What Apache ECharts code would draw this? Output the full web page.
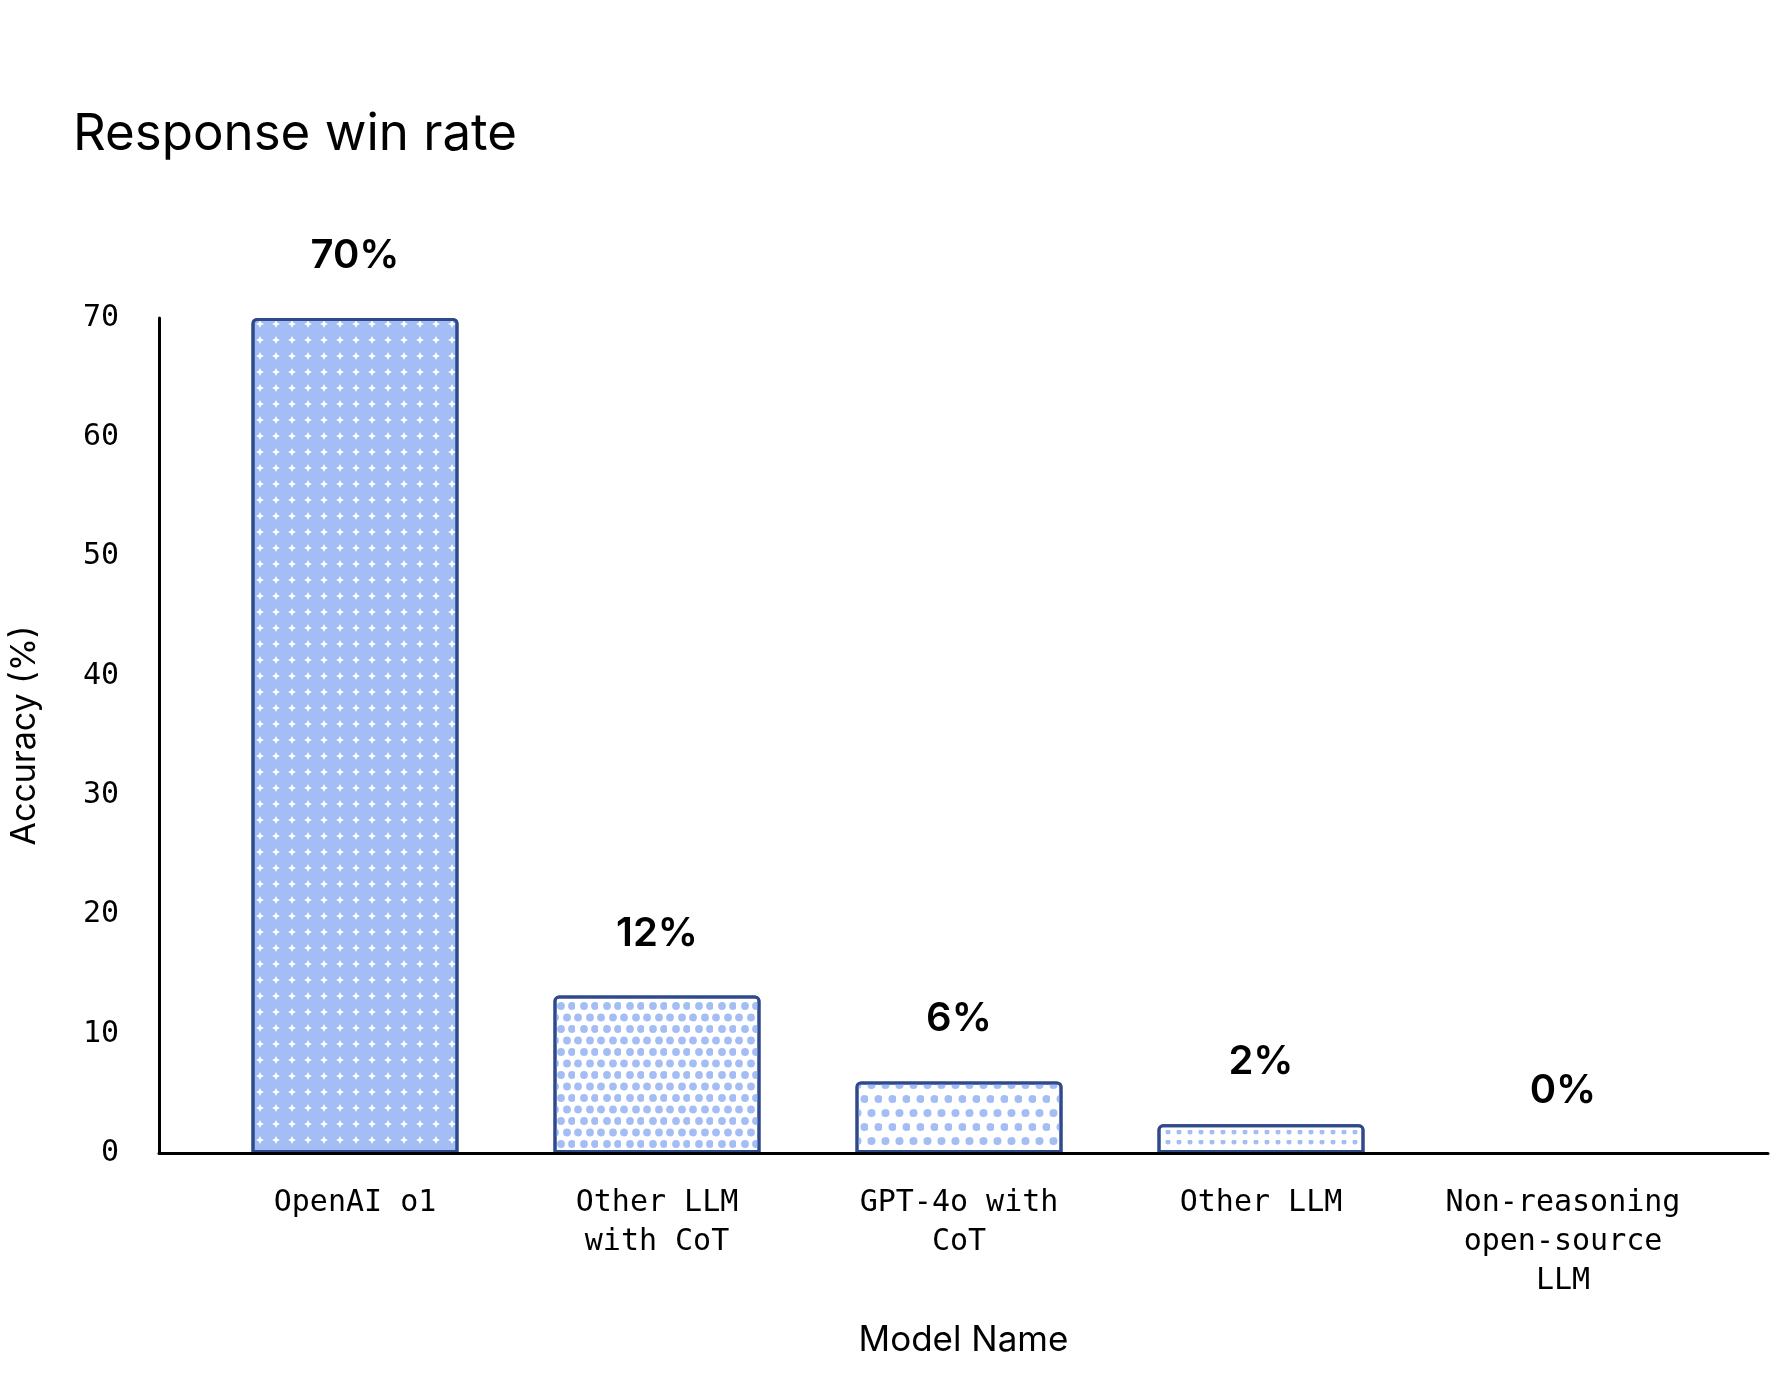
<!DOCTYPE html>
<html lang="en">
<head>
	<meta charset="UTF-8">
	<title>Response win rate</title>
	<script type="text/javascript" src="https://cdn.jsdelivr.net/npm/echarts@6/dist/echarts.min.js"></script>
	<style>
		html, body { margin: 0; padding: 0; background: #fff; }
		#main { width: 1788px; height: 1386px; }
	</style>
</head>
<body>
	<div id="main"></div>
	<script type="text/javascript">
		// data
		var categories = ['OpenAI o1', 'Other LLM\nwith CoT', 'GPT-4o with\nCoT', 'Other LLM', 'Non-reasoning\nopen-source\nLLM'];
		var winRates = [70, 13.2, 6, 2.4, 0];
		var rateLabels = ['70%', '12%', '6%', '2%', '0%'];
		var yMin = 0, yMax = 70, yStep = 10;

		var blue = '#a4bef5';
		var navy = '#2e4a8a';
		var star = 'path://M5,0 L6.6,3.4 L10,5 L6.6,6.6 L5,10 L3.4,6.6 L0,5 L3.4,3.4 Z';

		// one fill pattern per bar (decal dash lengths get rounded up, so keep them whole)
		var patterns = [
			{ fill: blue, decal: { symbol: star, color: '#ffffff', dashArrayX: [8, 8], dashArrayY: [8, 8], symbolSize: 1 } },
			{ fill: '#ffffff', decal: { symbol: 'circle', color: blue, dashArrayX: [[6, 6, 6, 5], [0, 6, 6, 5, 6, 0]], dashArrayY: [11, 0, 12, 0], symbolSize: 1.3 } },
			{ fill: '#ffffff', decal: { symbol: 'circle', color: blue, dashArrayX: [[7, 7], [0, 7, 7, 0]], dashArrayY: [14, 0], symbolSize: 1.15 } },
			{ fill: '#ffffff', decal: { symbol: 'circle', color: blue, dashArrayX: [4, 7], dashArrayY: [4, 6], symbolSize: 1.25 } },
			{ fill: '#ffffff', decal: null }
		];

		var barData = winRates.map(function (v, i) {
			var style = { color: patterns[i].fill };
			if (patterns[i].decal) style.decal = patterns[i].decal;
			if (v === 0) style.borderWidth = 0;
			return { value: v, itemStyle: style };
		});

		var monoFont = 'DejaVu Sans Mono';
		var sansFont = 'Inter';

		var myChart = echarts.init(document.getElementById('main'));
		var option = {
			backgroundColor: '#ffffff',
			animation: false,
			title: {
				text: 'Response win rate',
				left: 68,
				top: 104,
				textStyle: { fontFamily: sansFont, fontSize: 51, fontWeight: 400, color: '#000' }
			},
			grid: [
				{ left: 204, right: 74, top: 318, bottom: 233 },
				{ left: 157, right: 20, top: 318, bottom: 233 }
			],
			xAxis: [
				{
					type: 'category',
					gridIndex: 0,
					data: categories,
					axisLine: { show: false },
					axisTick: { show: false },
					axisLabel: {
						interval: 0,
						margin: 31,
						fontFamily: monoFont,
						fontSize: 30,
						lineHeight: 39,
						color: '#000'
					}
				},
				{
					type: 'value',
					gridIndex: 1,
					min: 0,
					max: 1,
					z: 3,
					axisLine: { show: true, lineStyle: { color: '#000', width: 3 } },
					axisTick: { show: false },
					axisLabel: { show: false },
					splitLine: { show: false },
					name: 'Model Name',
					nameLocation: 'middle',
					nameGap: 170,
					nameTextStyle: { fontFamily: sansFont, fontSize: 35, color: '#000' }
				}
			],
			yAxis: [
				{
					type: 'value',
					gridIndex: 0,
					min: yMin,
					max: yMax,
					interval: yStep,
					show: false
				},
				{
					type: 'value',
					gridIndex: 1,
					min: yMin,
					max: yMax,
					interval: yStep,
					z: 3,
					axisLine: { show: true, lineStyle: { color: '#000', width: 3 } },
					axisTick: { show: false },
					splitLine: { show: false },
					axisLabel: { margin: 40, fontFamily: monoFont, fontSize: 30, color: '#000' },
					name: 'Accuracy (%)',
					nameLocation: 'middle',
					nameGap: 117,
					nameTextStyle: { fontFamily: sansFont, fontSize: 34, color: '#000' }
				}
			],
			series: [
				{
					type: 'bar',
					xAxisIndex: 0,
					yAxisIndex: 0,
					data: barData,
					barWidth: 207,
					itemStyle: { borderColor: navy, borderWidth: 3, borderRadius: [4, 4, 0, 0] },
					label: {
						show: true,
						position: 'top',
						distance: 42,
						fontFamily: sansFont,
						fontSize: 40,
						fontWeight: 600,
						color: '#000',
						formatter: function (p) { return rateLabels[p.dataIndex]; }
					}
				}
			]
		};
		myChart.setOption(option);
	</script>
</body>
</html>
